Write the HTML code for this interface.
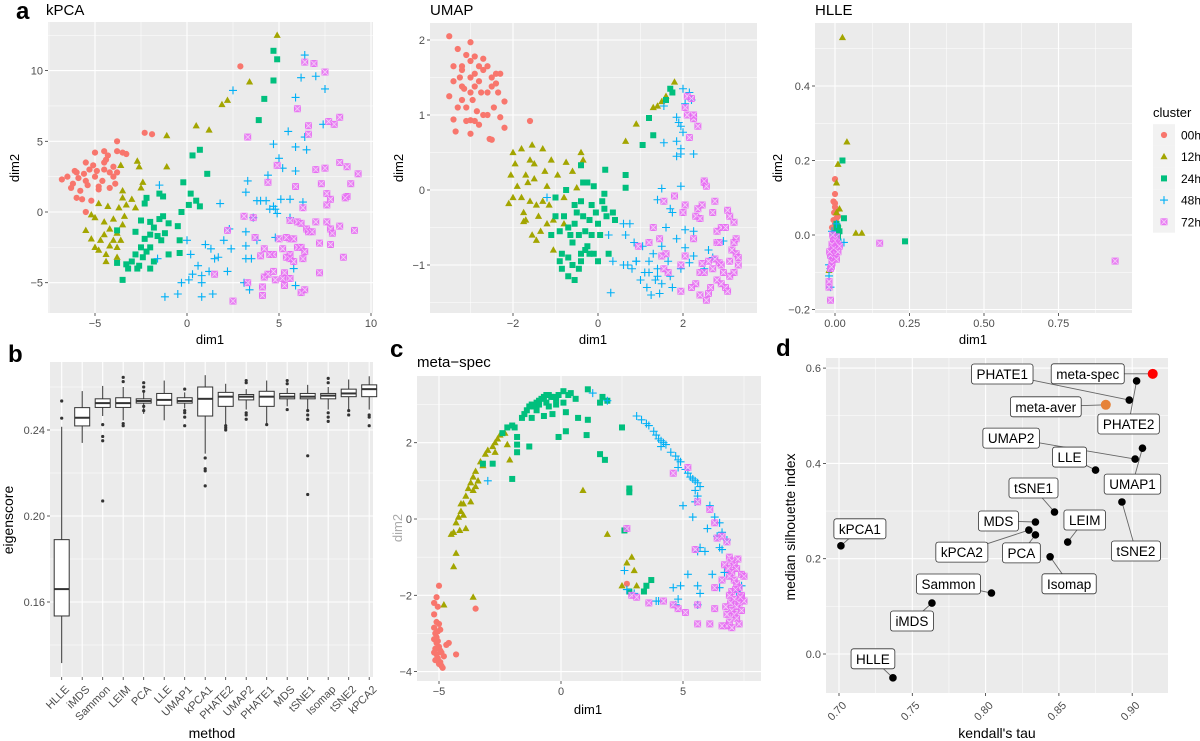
<!DOCTYPE html>
<html><head><meta charset="utf-8">
<style>
html,body{margin:0;padding:0;background:#fff;}
svg{display:block;font-family:"Liberation Sans",Arial,sans-serif;}
</style></head>
<body>
<svg id="fig" width="1200" height="741" viewBox="0 0 1200 741" xmlns="http://www.w3.org/2000/svg"></svg>
<script>
// ---------------- DATA ----------------
const clusters = ["00h","12h","24h","48h","72h"];
const clusterColors = ["#F8766D","#A3A500","#00BF7D","#00B0F6","#E76BF3"];

const kpca00h=[[-6.8,2.3],[-6.5,2.5],[-6.2,2],[-6,2.8],[-5.8,1.5],[-5.5,2.2],[-5.3,3],[-5,2.5],[-4.8,1.8],[-4.5,3.5],[-4.3,4],[-4.2,2.8],[-5.5,3.5],[-5,4.2],[-4.5,4.3],[-4,3.2],[-3.8,4.3],[-3.5,4.2],[-3.3,4.1],[-3.8,5],[-6,1],[-5.7,0.9],[-5.2,0.8],[-5.5,0],[-4.8,1.6],[-4,2.5],[-3.8,2.8],[-6.3,1.7],[-5.9,2.4],[-5.4,1.9],[-4.6,2.2],[-4.2,1.7],[-3.9,2],[-4.5,3],[-5.1,3.3],[-2.3,5.6],[-1.9,5.5],[2.9,10.3],[-6.1,2.9],[-5.6,2.7],[-4.9,2.9],[-4.4,3.7]];
const kpca12h=[[-5.5,-1.3],[-5.2,-1.9],[-5,-2.5],[-4.8,-2.7],[-4.5,-1.6],[-4.2,-1.2],[-4,-0.5],[-4.5,-0.7],[-3.8,-1.5],[-3.5,-0.9],[-3.4,-0.3],[-3.3,0.5],[-3.5,1],[-3.5,1.5],[-3,0.9],[-2.8,0.3],[-4.8,0.6],[-5,-0.4],[-4.3,0.4],[-3.7,0.3],[-4,-2],[-3.8,-2.5],[-4.4,-3],[-4.4,-3.5],[-3.8,-3.2],[-2.5,1.7],[-2.7,3.6],[-2.6,3.2],[-3.6,3.3],[-2.4,2.1],[-1.1,5.4],[-1.1,3.2],[0.5,6.1],[1.2,5.8],[1.9,7.6],[2.2,7.9],[3.4,9.2],[4.9,12.5],[-4.7,-2],[-4.2,-2.4],[-3.6,-2],[-5.2,-0.2]];
const kpca24h=[[-3.8,-1.3],[-3.3,-3.7],[-3.2,-4],[-3,-3.5],[-2.8,-3],[-2.6,-3.8],[-2.4,-3.2],[-2.2,-2.8],[-2,-2.5],[-2.3,-1.9],[-2,-1.6],[-1.8,-1.1],[-1.6,-1.7],[-1.4,-2],[-1.2,-1.5],[-1,-0.8],[-1.3,-0.3],[-1.5,-0.5],[-2,-0.7],[-2.5,-0.6],[-0.5,-1],[-0.3,0],[0.1,0.5],[0.2,1.3],[0.5,0.8],[0.7,0.4],[-0.2,2.1],[0.3,4],[0.7,4.4],[1.1,2.7],[-1.5,1.3],[-1.3,1.1],[-2.3,0.6],[-2.2,1],[-3.5,-4.8],[-3.8,-3.6],[-2.7,-4],[-2,-4],[-1,-3],[-0.4,-2.9],[-0.4,-2],[3.9,6.5],[4.2,8],[4.7,9.3],[4.7,11.4],[4.9,10.8],[-2.8,-1.4],[-2.5,-2.5],[-1.8,-3.5]];
const kpca48h=[[-1.5,1.9],[-1.6,-3.3],[-0.5,-5.8],[-1.2,-6],[-0.3,-5],[0,-2],[0.1,-4.8],[0.3,-4.4],[0.2,-3],[0.6,-3.8],[0.8,-4.5],[0.8,-5],[1,-2.3],[1.2,-4.2],[1.3,-2.6],[1.5,-3.3],[1.7,-3.2],[2,-2],[2.2,-4.2],[2.4,-2.6],[2.5,8.6],[3.2,-3.3],[3.2,-2.4],[3.2,-1.4],[3.4,-5.5],[3.6,-0.4],[3.8,-2],[4,0.8],[4.3,0.8],[4.4,2.6],[4.5,0.2],[4.8,0.2],[4.7,4.8],[4.8,-1.8],[5,3.8],[5.1,0.9],[5.2,3.1],[5.5,5.7],[5.6,0.9],[5.6,-0.4],[5.9,4.6],[5.9,2.9],[5.9,8.1],[6.2,9.5],[6.3,0.7],[6.5,4.4],[6.4,5.3],[6.4,11.1],[7,9.6],[7.5,8.7],[7.4,6.2],[3.2,1.4],[3.3,2.2],[1.8,0.6],[0.8,-6],[1.4,-5.8],[5.9,-5.2],[5.8,-4],[2.3,-1.2],[3.1,-5],[3.8,0.8],[4.9,-0.1],[4.7,0.4],[3.5,-3.3]];
const kpca72h=[[3.3,5.3],[4.4,2.1],[4.9,3.3],[5.9,1.8],[6,7.3],[6.4,10.6],[6.6,6.1],[6.6,5.5],[6.9,10.5],[7.5,9.9],[7,3],[7.5,3.1],[7.3,2],[7.6,1.3],[7.8,0.9],[7.6,0.5],[7.7,6.4],[8,6.2],[8.3,6.7],[8.3,3.5],[8.7,3.2],[8.9,2],[8.7,1.1],[9.3,2.7],[8.6,1],[6.3,0.3],[5.6,-0.6],[6,-0.7],[6.2,-0.8],[6.5,-1.2],[6.6,-1.4],[6.8,-1.4],[7,-0.7],[7.6,-0.7],[7.8,-1.2],[7.9,-1.5],[8.3,-1],[9.1,-1.3],[7.2,-2.2],[7.8,-2.3],[6,-2.5],[6.2,-2.5],[6.3,-3.3],[6.4,-2.8],[5.6,-3],[5.4,-3.2],[5.2,-2.6],[5,-1.9],[5.6,-1.9],[5.8,-1.9],[4.7,-3],[4.5,-3],[4.2,-2.6],[4,-3.1],[4.2,-4.6],[4.4,-4.4],[4.7,-4.2],[4.8,-4.8],[5.2,-4.7],[5.3,-4.3],[5.6,-4.7],[5.3,-5.2],[6.2,-5.7],[6.4,-5.5],[7.2,-4.3],[8.5,-3.2],[3.3,-5],[4.1,-5.3],[4.1,-5.9],[2.5,-6.3],[1.5,-4.4],[2.2,-1.3],[3.1,-0.3],[3.7,-1.8],[3.6,-0.4],[5.6,-3.3],[5.8,-3.5],[5.4,-1.8]];

const umap00h=[[-3.5,2.05],[-3.3,1.88],[-3,1.97],[-3.4,1.65],[-3.2,1.6],[-3.1,1.8],[-3,1.72],[-2.9,1.78],[-2.8,1.65],[-2.7,1.6],[-2.6,1.65],[-2.5,1.5],[-2.4,1.55],[-2.6,1.3],[-2.8,1.45],[-3,1.5],[-3.2,1.38],[-3.4,1.45],[-3.5,1.25],[-3.3,1.1],[-3.1,1.1],[-3.2,1.2],[-3,1.3],[-2.9,1.38],[-2.75,1.3],[-2.5,1.38],[-2.4,1.42],[-2.3,1.55],[-2.2,1.18],[-2.45,1.1],[-2.6,1],[-2.7,1],[-2.9,0.92],[-3,0.93],[-3.1,0.92],[-3.4,0.94],[-3.35,0.78],[-3,0.75],[-2.8,0.87],[-2.5,0.67],[-2.55,0.68],[-2.2,0.83],[-2.3,0.97],[-1.6,0.92],[-3.2,1.65],[-2.95,1.2],[-2.85,1.05],[-2.35,1.3],[-3.25,1.5],[-2.7,1.75],[-2.9,1.55],[-3.15,1.35]];
const umap12h=[[-2.1,-0.18],[-2,0.5],[-1.95,0.35],[-2.05,0.2],[-2,-0.1],[-1.9,0.05],[-1.8,0.55],[-1.7,0.2],[-1.75,-0.3],[-1.7,-0.4],[-1.6,-0.15],[-1.55,0.6],[-1.5,0.35],[-1.5,0.15],[-1.45,-0.2],[-1.4,-0.35],[-1.55,-0.6],[-1.45,-0.67],[-1.35,-0.55],[-1.3,0.55],[-1.25,0.25],[-1.2,0.05],[-1.15,-0.2],[-1.2,-0.45],[-1.1,0.4],[-1.05,-0.4],[-1.05,-0.8],[-0.95,0.2],[-0.8,-0.1],[-0.75,0.37],[-0.6,0.25],[-0.5,0.03],[-0.4,0.5],[-0.35,0.4],[-1.8,-0.1],[-1.6,0.4],[-1.3,-0.15],[0.65,0.65],[0.9,0.88],[1.3,1.1],[1.4,1.12],[1.5,1.18],[1.6,1.25],[1.8,1.44],[-1.75,-0.42],[-1.65,0.1],[-0.8,-0.45]];
const umap24h=[[-1,-0.35],[-1,-0.1],[-0.9,-0.55],[-0.8,-0.35],[-0.7,-0.5],[-0.7,-0.9],[-0.65,-0.6],[-0.6,-0.7],[-0.55,-0.45],[-0.5,-0.3],[-0.45,-0.6],[-0.4,-0.15],[-0.35,-0.35],[-0.3,-0.55],[-0.25,-0.75],[-0.2,-0.4],[-0.15,-0.2],[-0.1,0.05],[-0.05,-0.3],[0,-0.45],[0.05,-0.6],[0.1,-0.15],[0.15,-0.25],[0.2,-0.35],[0.15,-0.05],[0.25,-0.85],[0.35,-0.3],[0.4,-0.4],[-0.4,-0.85],[-0.3,-0.8],[-0.2,-0.85],[-0.1,-0.85],[0,-0.95],[-0.9,-0.95],[-0.85,-1.05],[-0.7,-1.15],[-0.6,-1],[-0.55,-1.2],[-0.45,-1.05],[-0.4,-0.95],[-0.85,-0.85],[-0.55,-0.2],[-0.35,0.1],[-0.25,0.1],[-0.4,0.33],[0.17,0.27],[0.65,0.2],[0.65,0.03],[1.05,0.6],[1.3,0.73],[1.2,0.96],[1.6,1.2],[1.7,1.35],[1.75,1.3],[-0.75,0.0],[-1.1,-0.6],[-0.15,-0.6]];
const umap48h=[[-1.2,-0.1],[0.25,-0.6],[0.35,-0.95],[0.3,-1.37],[0.6,-0.45],[0.65,-0.6],[0.7,-1],[0.8,-1.05],[0.9,-0.95],[0.85,-0.7],[1,-1.2],[1.05,-0.75],[1.1,-1.1],[1.15,-1.3],[1.2,-0.95],[1.25,-1.4],[1.3,-0.85],[1.35,-1.2],[1.4,-1.05],[1.45,-1.38],[1.5,-0.75],[1.6,-0.5],[1.65,-0.95],[1.7,-1.15],[1.75,-1.3],[1.5,-1.25],[1.5,0.02],[1.4,-0.13],[1.7,-0.25],[1.75,-0.3],[1.85,-0.65],[1.95,-1.05],[1.95,0.05],[2.05,-0.53],[2.05,-0.77],[2.15,-0.97],[2.25,-0.88],[2.25,-0.55],[2.5,-1.05],[2.6,-0.8],[2.7,-0.9],[1.55,0.63],[1.85,0.45],[1.95,0.48],[1.95,0.55],[2.25,0.48],[1.85,0.65],[1.9,0.9],[1.85,0.97],[1.95,0.85],[2,0.77],[2.05,1.15],[2,1.35],[2.15,1.3],[2.2,1.2],[1.55,1.12],[0.75,-0.45],[0.9,-0.95],[1.2,-1.1],[1.4,-1.15],[2.95,-0.68],[0.6,-1.0]];
const umap72h=[[0.95,-0.75],[1.2,-0.7],[1.3,-0.5],[1.45,-0.65],[1.5,-0.88],[1.55,-1.05],[1.6,-0.85],[1.65,-1.1],[1.8,-0.08],[1.55,-0.15],[1.95,-1.35],[2.05,-0.88],[2,-0.3],[2.05,-0.2],[2.1,1.25],[2.05,1.1],[2.1,1.0],[2.15,0.7],[2.2,1.22],[2.25,0.95],[2.25,1.0],[2.35,0.85],[2.25,-0.65],[2.3,-0.35],[2.35,-0.25],[2.4,-0.38],[2.45,-0.2],[2.5,0.1],[2.55,0.05],[2.5,0.12],[2.75,-0.15],[2.7,-0.3],[2.8,-0.55],[2.9,-0.5],[3,-0.5],[3.05,-0.27],[3.1,-0.35],[3.2,-0.43],[3.25,-0.65],[3.2,-0.7],[3.25,-0.85],[3.3,-1],[3.2,-1.1],[3.1,-1.15],[3.0,-1.3],[3.05,-1.35],[2.9,-1.25],[2.8,-1.2],[2.7,-1.05],[2.6,-0.95],[2.75,-0.92],[2.85,-0.97],[2.9,-1.0],[2.95,-1.1],[2.65,-1.3],[2.6,-1.38],[2.55,-1.47],[2.4,-1.4],[2.3,-1.25],[2.2,-1.3],[2.4,-1.1],[2.5,-1.1],[2.8,-0.7],[2.85,-0.7],[1.95,-1.0],[3.15,-0.8],[3.3,-0.9],[3.1,-0.95],[2.45,-0.98]];

const hlle00h=[[0,0.15],[0,0.11],[-0.005,0.09],[0,0.085],[-0.003,0.06],[0.005,0.045],[0.01,0.05],[-0.01,0.02],[0,0.03],[0.005,0.065],[0,0.075],[-0.005,0.04]];
const hlle12h=[[0.025,0.53],[0.04,0.25],[0.01,0.19],[0.005,0.14],[0.015,0.07],[0.005,0.06],[0.07,0.005],[0.09,0.005],[-0.02,-0.095],[0.01,0.03],[0,0.01]];
const hlle24h=[[0.025,0.2],[0.03,0.045],[0.235,-0.017],[0.005,0.03],[0.01,0.02],[0.015,0.01],[0,0.005],[-0.005,0.0],[0.01,-0.005],[0.005,0.015]];
const hlle48h=[[-0.02,-0.11],[-0.015,-0.14],[-0.02,-0.08],[-0.01,-0.06],[-0.005,-0.03],[0,0],[0.005,0.03],[0.02,-0.02],[0.03,-0.02],[-0.01,0.01],[0,-0.045],[-0.015,-0.09]];
const hlle72h=[[0.94,-0.07],[0.15,-0.022],[-0.015,-0.175],[-0.02,-0.14],[-0.02,-0.125],[-0.015,-0.09],[-0.01,-0.07],[-0.005,-0.06],[0,-0.05],[-0.01,-0.04],[0,-0.03],[0.005,-0.02],[-0.005,-0.01],[0.005,-0.005],[0,-0.015],[-0.01,-0.025],[-0.005,-0.035],[0.01,-0.045],[-0.015,-0.055],[0.005,-0.065],[-0.01,-0.075],[-0.012,-0.085],[0.01,-0.025],[-0.008,0.0],[0.015,-0.03],[-0.018,-0.045]];

const meta00h=[[-5,-1.75],[-5.1,-2.05],[-5.05,-2.3],[-5.2,-2.5],[-5.1,-2.7],[-5.2,-2.85],[-5,-2.75],[-5.15,-3],[-5.2,-3.15],[-5.1,-3.25],[-5.15,-3.4],[-5.1,-3.55],[-5.05,-3.65],[-4.95,-3.75],[-4.9,-3.85],[-4.85,-3.9],[-5,-3.8],[-5.2,-3.5],[-5.1,-3.1],[-5.05,-2.95],[-4.95,-3.45],[-4.8,-3.6],[-4.7,-3.3],[-4.6,-3.25],[-4.3,-3.55],[-3.5,-2.35],[-5.2,-2.2],[-5,-3.35],[-4.9,-3.5],[-5.15,-3.7],[2.7,-1.7],[-5.05,-3.2],[-4.95,-2.9]];
const meta12h=[[-4.8,-2.25],[-3.6,-2.05],[-4.4,-1.25],[-4.3,-0.9],[-4.5,-0.4],[-4.4,-0.35],[-4.3,-0.1],[-4.2,0.05],[-4.1,0.2],[-4,0.4],[-3.9,0.6],[-3.8,0.8],[-3.7,0.95],[-3.6,1.1],[-3.5,1.25],[-3.3,1.5],[-3.1,1.7],[-3,1.8],[-2.8,1.9],[-2.7,2.0],[-2.6,2.1],[-2.5,2.2],[-2.3,2.25],[-2.2,1.95],[-2.7,1.75],[-3.4,1.0],[-3.6,0.75],[-4.1,0.4],[-3.9,-0.25],[-4.15,-0.3],[-3.7,0.45],[-3.5,0.85],[-3.2,1.4],[-2.1,1.55],[-4.0,0.1],[0.9,0.75],[1.9,-0.4],[2.7,-1.15],[2.9,-1.0],[3,-1.35],[2.5,-1.75],[3.1,-1.75]];
const meta24h=[[-3.2,1.45],[-2.8,1.45],[-2.4,2.25],[-2.2,2.4],[-2,2.45],[-1.9,2.4],[-1.8,2.15],[-1.8,1.95],[-1.8,1.75],[-2,1.05],[-1.6,2.65],[-1.5,2.75],[-1.4,2.85],[-1.3,2.95],[-1.2,3.0],[-1.1,2.95],[-1,3.05],[-0.9,3.1],[-0.8,3.15],[-0.7,3.2],[-0.6,3.25],[-0.5,3.25],[-0.4,3.2],[-0.3,3.2],[-0.2,3.15],[-0.1,3.25],[0.1,3.35],[0.3,3.25],[0.4,3.3],[0.6,3.15],[1.1,3.4],[1.6,3.05],[1.7,3.2],[1.9,3.1],[0.2,2.8],[0.1,3.05],[-0.5,2.95],[-0.35,2.75],[-0.7,2.7],[-1.2,2.65],[-1.3,1.9],[0.7,2.65],[1.1,2.6],[2.5,2.4],[0.2,2.3],[1.05,2.2],[-0.1,2.15],[1.6,1.7],[1.8,1.55],[2.8,0.8],[2.8,0.7],[2.6,-0.3],[2.8,-1.9],[3.4,-1.9],[3.5,-1.75],[3.7,-1.6],[-0.9,3.0],[-0.6,3.05],[-1.0,2.85],[-0.2,3.0]];
const meta48h=[[-3,1.0],[1.3,3.3],[1.9,3.1],[3.1,2.7],[3.3,2.6],[3.5,2.5],[3.6,2.45],[3.8,2.3],[3.9,2.2],[4,2.1],[4.1,2.05],[4.2,2.0],[4.3,1.95],[4.1,1.9],[4.5,1.75],[4.7,1.65],[4.8,1.55],[4.9,1.5],[4.8,1.35],[5.1,1.3],[5.2,1.2],[5.3,1.1],[5.4,1.05],[5.5,1.0],[5.6,0.95],[5.7,0.85],[5.5,0.75],[5.6,0.6],[5.5,0.45],[5,0.35],[5.4,0.05],[6.1,0.35],[6.3,0.05],[6.5,-0.1],[6.0,-0.25],[6.4,-0.45],[6.6,-0.35],[6.8,-0.55],[6.6,-0.8],[6.5,-0.75],[5.7,-0.75],[5.6,-0.85],[5.9,-0.85],[5.2,-1.45],[6.2,-1.45],[6.7,-1.4],[7.4,-1.75],[7.2,-1.9],[4.9,-1.75],[4.6,-1.8],[5.6,-1.75],[5.7,-1.95],[5.6,-2.25],[4.8,-2.1],[4.7,-2.25],[3.9,-2.15],[4.0,-2.15],[2.6,-1.35],[2.7,-1.85],[3.0,-1.95],[6.5,-1.8]];
const meta72h=[[2.7,-0.25],[2.9,-2.0],[3.1,-2.05],[3.6,-2.2],[4.2,-2.15],[4.6,-2.25],[4.8,-2.35],[5.1,-2.45],[5.6,-2.75],[6.1,-2.75],[6.3,-2.35],[4.6,1.2],[5.2,1.35],[5.6,0.45],[6.1,0.25],[6.3,-0.1],[6.4,-0.5],[6.6,-0.45],[6.8,-0.6],[5.5,-0.8],[6.6,-1.6],[5.6,-2.25],[6.3,-1.8],[6.9,-1.0],[7.0,-1.1],[7.1,-1.2],[7.2,-1.3],[7.0,-1.4],[6.9,-1.5],[7.1,-1.6],[7.2,-1.7],[7.3,-1.8],[7.0,-1.9],[6.9,-2.0],[7.1,-2.1],[7.3,-2.2],[7.2,-2.3],[7.0,-2.4],[6.8,-2.5],[7.1,-2.5],[7.2,-2.6],[6.9,-2.7],[6.8,-2.8],[7.0,-2.85],[6.6,-2.8],[7.4,-1.45],[7.5,-1.5],[7.4,-2.0],[7.5,-2.15],[7.4,-2.4],[7.3,-2.75],[6.7,-1.2],[6.85,-1.3],[7.25,-1.05],[6.95,-2.2],[6.75,-2.3],[7.15,-1.85],[7.35,-2.05]];

// panel b
const methods=["HLLE","iMDS","Sammon","LEIM","PCA","LLE","UMAP1","kPCA1","PHATE2","UMAP2","PHATE1","MDS","tSNE1","Isomap","tSNE2","kPCA2"];
const whiskerLow=[0.1316,0.234,0.2465,0.2445,0.2475,0.2445,0.250,0.229,0.2425,0.2495,0.2425,0.251,0.2495,0.2495,0.2485,0.2495];
const q1=[0.1535,0.2419,0.2505,0.2505,0.2525,0.2515,0.2525,0.2465,0.251,0.254,0.251,0.2545,0.2545,0.2545,0.2555,0.2555];
const medians=[0.166,0.2457,0.2525,0.2525,0.2535,0.254,0.2535,0.2545,0.2555,0.2555,0.2555,0.2555,0.2555,0.256,0.257,0.259];
const q3=[0.189,0.2504,0.2545,0.255,0.2545,0.257,0.255,0.26,0.2575,0.2565,0.258,0.257,0.257,0.257,0.259,0.261];
const whiskerHigh=[0.2415,0.2581,0.2605,0.26,0.2575,0.263,0.2575,0.2655,0.2615,0.259,0.263,0.2595,0.261,0.26,0.2635,0.265];
const outliers=[[0.2455,0.2535],[],[0.2425,0.237,0.235,0.207],[0.242,0.243,0.2625,0.2645],[0.249,0.251,0.258,0.26,0.262],[],[0.242,0.246,0.248,0.249,0.259],[0.227,0.222,0.221,0.214],[0.24,0.241,0.242],[0.245,0.247,0.248,0.262,0.263],[0.2425],[0.2495,0.2615,0.263],[0.245,0.247,0.249,0.228,0.21],[0.244,0.246,0.248,0.262,0.264],[0.247,0.249],[0.246,0.247,0.242]];

// panel d
const dMethods=["kPCA1","HLLE","iMDS","Sammon","kPCA2","MDS","PCA","tSNE1","Isomap","LEIM","LLE","tSNE2","UMAP2","UMAP1","PHATE1","PHATE2","meta-spec","meta-aver"];
const kendallTau=[0.7013,0.7368,0.7634,0.804,0.8295,0.834,0.834,0.847,0.844,0.856,0.875,0.893,0.902,0.907,0.898,0.903,0.914,0.882];
const silhouette=[0.227,-0.05,0.107,0.128,0.26,0.277,0.25,0.298,0.204,0.235,0.386,0.319,0.409,0.432,0.533,0.573,0.588,0.523];
// label placement offsets in px (layout, not data)
const labelOffsets=[[19,-17],[-20,-19],[-20,18],[-43,-9],[-67,22],[-37,-1],[-14,18],[-21,-24],[19,27],[17,-22],[-26,-13],[14,49],[-124,-21],[-10,36],[-127,-26],[-8,43],[-65,0],[-60,2]];

// ---------------- HELPERS ----------------
const NS="http://www.w3.org/2000/svg";
const fig=document.getElementById('fig');
function mk(tag,attrs,parent){const e=document.createElementNS(NS,tag);for(const k in attrs)e.setAttribute(k,attrs[k]);(parent||fig).appendChild(e);return e;}
function txt(s,attrs,parent){const e=mk('text',attrs,parent);e.textContent=s;return e;}

function linScale(d0,d1,r0,r1){return v=>r0+(v-d0)*(r1-r0)/(d1-d0);}

function drawPanel(p){
  const g=mk('g',{});
  
  
  const bg=mk('rect',{x:p.x0,y:p.y0,width:p.x1-p.x0,height:p.y1-p.y0,fill:'#EBEBEB'},g);
  
  
  (p.xminor||[]).forEach(v=>{const X=p.sx(v);mk('line',{x1:X,x2:X,y1:p.y0,y2:p.y1,stroke:'#fff','stroke-width':0.5},g);});
  (p.yminor||[]).forEach(v=>{const Y=p.sy(v);mk('line',{x1:p.x0,x2:p.x1,y1:Y,y2:Y,stroke:'#fff','stroke-width':0.5},g);});
  (p.xticks||[]).forEach((v,i)=>{const X=p.sx(v);
    const gl=mk('line',{x1:X,x2:X,y1:p.y0,y2:p.y1,stroke:'#fff','stroke-width':1.1},g);
    
    
    mk('line',{x1:X,x2:X,y1:p.y1,y2:p.y1+3,stroke:'#333','stroke-width':0.8},g);
    if(p.xlabels){
      const lab=p.xlabels[i];
      let t;
      if(p.rotx){t=txt(lab,{x:X+3,y:p.y1+8,'font-size':11,fill:'#4D4D4D','text-anchor':'end',transform:`rotate(-45 ${X+3} ${p.y1+8})`,'dominant-baseline':'hanging'},g);}
      else t=txt(lab,{x:X,y:p.y1+14,'font-size':11,fill:'#4D4D4D','text-anchor':'middle'},g);
      
      
    }
  });
  (p.yticks||[]).forEach((v,i)=>{const Y=p.sy(v);
    const gl=mk('line',{x1:p.x0,x2:p.x1,y1:Y,y2:Y,stroke:'#fff','stroke-width':1.1},g);
    
    
    mk('line',{x1:p.x0-3,x2:p.x0,y1:Y,y2:Y,stroke:'#333','stroke-width':0.8},g);
    const t=txt(p.ylabels[i],{x:p.x0-5,y:Y+4,'font-size':11,fill:'#4D4D4D','text-anchor':'end'},g);
    
    
  });
  return g;
}

function marker(g,shape,X,Y,col){
  let e;
  if(shape===0){e=mk('circle',{cx:X,cy:Y,r:3.1,fill:col},g);}
  else if(shape===1){e=mk('polygon',{points:`${X},${Y-3.8} ${X-3.6},${Y+2.6} ${X+3.6},${Y+2.6}`,fill:col},g);}
  else if(shape===2){e=mk('rect',{x:X-3,y:Y-3,width:6,height:6,fill:col},g);}
  else if(shape===3){e=mk('path',{d:`M${X-4},${Y}H${X+4}M${X},${Y-4}V${Y+4}`,stroke:col,'stroke-width':1.1,fill:'none'},g);}
  else {e=mk('g',{},g);
    mk('rect',{x:X-3,y:Y-3,width:6,height:6,fill:col,'fill-opacity':0.75,stroke:col,'stroke-width':0.9},e);
    mk('path',{d:`M${X-3},${Y-3}L${X+3},${Y+3}M${X+3},${Y-3}L${X-3},${Y+3}`,stroke:'#fff','stroke-width':0.6,'stroke-opacity':0.7},e);}
  return e;
}

function drawScatter(g,p,sets){
  sets.forEach((pts,ci)=>{
    pts.forEach(pt=>{
      const e=marker(g,ci,p.sx(pt[0]),p.sy(pt[1]),clusterColors[ci]);
      
      
    });
  });
}

function label(s,attrs,name){const t=txt(s,attrs);return t;}

// ---------------- PANEL a: kPCA ----------------
(function(){
  const p={name:'kpca-panel',x0:48,x1:373,y0:22,y1:313,
    sx:linScale(0,5,187,279),sy:linScale(0,5,212,141.3),
    xticks:[-5,0,5,10],xlabels:["\u22125","0","5","10"],xminor:[-7.5,-2.5,2.5,7.5],
    yticks:[-5,0,5,10],ylabels:["\u22125","0","5","10"],yminor:[-2.5,2.5,7.5,12.5]};
  const g=drawPanel(p);
  drawScatter(g,p,[kpca00h,kpca12h,kpca24h,kpca48h,kpca72h]);
})();
// ---------------- UMAP ----------------
(function(){
  const p={name:'umap-panel',x0:430,x1:757,y0:23,y1:313,
    sx:linScale(0,2,598,683),sy:linScale(0,1,190,115),
    xticks:[-2,0,2],xlabels:["\u22122","0","2"],xminor:[-3,-1,1,3],
    yticks:[-1,0,1,2],ylabels:["\u22121","0","1","2"],yminor:[-1.5,-0.5,0.5,1.5]};
  const g=drawPanel(p);
  drawScatter(g,p,[umap00h,umap12h,umap24h,umap48h,umap72h]);
})();
// ---------------- HLLE ----------------
(function(){
  const p={name:'hlle-panel',x0:815,x1:1132,y0:23,y1:313,
    sx:linScale(0,0.25,835,909.5),sy:linScale(0,0.2,235,160.5),
    xticks:[0,0.25,0.5,0.75],xlabels:["0.00","0.25","0.50","0.75"],xminor:[0.125,0.375,0.625,0.875],
    yticks:[-0.2,0,0.2,0.4],ylabels:["\u22120.2","0.0","0.2","0.4"],yminor:[-0.1,0.1,0.3,0.5]};
  const g=drawPanel(p);
  drawScatter(g,p,[hlle00h,hlle12h,hlle24h,hlle48h,hlle72h]);
})();
// ---------------- meta-spec ----------------
(function(){
  const p={name:'meta-spec-panel',x0:417,x1:761,y0:376,y1:681,
    sx:linScale(0,5,561,683),sy:linScale(0,2,519,442.7),
    xticks:[-5,0,5],xlabels:["\u22125","0","5"],xminor:[-2.5,2.5,7.5],
    yticks:[-4,-2,0,2],ylabels:["\u22124","\u22122","0","2"],yminor:[-3,-1,1,3]};
  const g=drawPanel(p);
  drawScatter(g,p,[meta00h,meta12h,meta24h,meta48h,meta72h]);
})();
// ---------------- PANEL b boxplot ----------------
(function(){
  const sy=linScale(0.2,0.24,516,430);
  const cx=i=>61.7+i*20.5;
  const p={name:'eigenscore-boxplot',x0:50,x1:373,y0:362,y1:677,sx:v=>cx(v),sy:sy,
    xticks:methods.map((m,i)=>i),xlabels:methods,rotx:true,
    yticks:[0.16,0.2,0.24],ylabels:["0.16","0.20","0.24"],yminor:[0.14,0.18,0.22,0.26]};
  const g=drawPanel(p);
  methods.forEach((m,i)=>{
    const X=cx(i),bw=15;
    const bg=mk('g',{},g);
    
    
    mk('line',{x1:X,x2:X,y1:sy(whiskerLow[i]),y2:sy(q1[i]),stroke:'#333','stroke-width':1},bg);
    mk('line',{x1:X,x2:X,y1:sy(q3[i]),y2:sy(whiskerHigh[i]),stroke:'#333','stroke-width':1},bg);
    mk('rect',{x:X-bw/2,y:sy(q3[i]),width:bw,height:Math.max(0.5,sy(q1[i])-sy(q3[i])),fill:'#fff',stroke:'#333','stroke-width':1},bg);
    mk('line',{x1:X-bw/2,x2:X+bw/2,y1:sy(medians[i]),y2:sy(medians[i]),stroke:'#333','stroke-width':2},bg);
    outliers[i].forEach(v=>{const o=mk('circle',{cx:X,cy:sy(v),r:1.6,fill:'#333'},bg);
      
      });
  });
})();
// ---------------- PANEL d ----------------
(function(){
  const sx=linScale(0.7,0.75,839,912.3),sy=linScale(0,0.2,654,558.7);
  const p={name:'silhouette-scatter',x0:826,x1:1168,y0:358,y1:693,sx:sx,sy:sy,
    xticks:[0.7,0.75,0.8,0.85,0.9],xlabels:["0.70","0.75","0.80","0.85","0.90"],rotx:true,xminor:[0.725,0.775,0.825,0.875,0.925].filter(v=>v<0.92),
    yticks:[0,0.2,0.4,0.6],ylabels:["0.0","0.2","0.4","0.6"],yminor:[-0.1,0.1,0.3,0.5]};
  const g=drawPanel(p);
  const lg=mk('g',{},g), pg=mk('g',{},g), bg=mk('g',{},g);
  dMethods.forEach((m,i)=>{
    const X=sx(kendallTau[i]),Y=sy(silhouette[i]);
    const LX=X+labelOffsets[i][0],LY=Y+labelOffsets[i][1];
    mk('line',{x1:X,y1:Y,x2:LX,y2:LY,stroke:'#666','stroke-width':0.9},lg);
    const col=m==='meta-spec'?'#FF0000':(m==='meta-aver'?'#E6833A':'#000');
    const c=mk('circle',{cx:X,cy:Y,r:(m.startsWith('meta')?5:3.8),fill:col},pg);
    
    
    const box=mk('g',{},bg);
    
    
    const r=mk('rect',{x:0,y:LY-10,width:10,height:20,rx:2.5,fill:'#fff',stroke:'#333','stroke-width':0.8},box);
    const t=txt(m,{x:LX,y:LY+5,'font-size':13.5,'text-anchor':'middle',fill:'#000'},box);
    const w=t.getComputedTextLength()+10;
    r.setAttribute('x',LX-w/2);r.setAttribute('width',w);
  });
})();

// ---------------- TEXT: titles, axis titles, letters ----------------
label('a',{x:16,y:19,'font-size':24,'font-weight':'bold'},'panel-letter-a');
label('kPCA',{x:46,y:15,'font-size':15},'kpca-title');
label('UMAP',{x:430,y:15,'font-size':15},'umap-title');
label('HLLE',{x:815,y:15,'font-size':15},'hlle-title');
label('b',{x:8,y:362,'font-size':24,'font-weight':'bold'},'panel-letter-b');
label('c',{x:390,y:357,'font-size':24,'font-weight':'bold'},'panel-letter-c');
label('meta\u2212spec',{x:417,y:367,'font-size':15},'meta-spec-title');
label('d',{x:776,y:356,'font-size':24,'font-weight':'bold'},'panel-letter-d');

label('dim1',{x:210,y:344,'font-size':13,'text-anchor':'middle'},'kpca-x-title');
label('dim1',{x:593,y:344,'font-size':13,'text-anchor':'middle'},'umap-x-title');
label('dim1',{x:973,y:344,'font-size':13,'text-anchor':'middle'},'hlle-x-title');
label('dim1',{x:588,y:714,'font-size':13,'text-anchor':'middle'},'meta-spec-x-title');
label('method',{x:212,y:738,'font-size':14,'text-anchor':'middle'},'boxplot-x-title');
label("kendall's tau",{x:997,y:738,'font-size':14,'text-anchor':'middle'},'silhouette-x-title');

label('dim2',{x:0,y:0,'font-size':13,'text-anchor':'middle',transform:'translate(19,168) rotate(-90)'},'kpca-y-title');
label('dim2',{x:0,y:0,'font-size':13,'text-anchor':'middle',transform:'translate(403,168) rotate(-90)'},'umap-y-title');
label('dim2',{x:0,y:0,'font-size':13,'text-anchor':'middle',transform:'translate(782,168) rotate(-90)'},'hlle-y-title');
label('dim2',{x:0,y:0,'font-size':13,'text-anchor':'middle',fill:'#aaa',transform:'translate(402,528) rotate(-90)'},'meta-spec-y-title');
label('eigenscore',{x:0,y:0,'font-size':14,'text-anchor':'middle',transform:'translate(13,520) rotate(-90)'},'boxplot-y-title');
label('median silhouette index',{x:0,y:0,'font-size':14,'text-anchor':'middle',transform:'translate(795,527) rotate(-90)'},'silhouette-y-title');

// ---------------- LEGEND ----------------
(function(){
  const g=mk('g',{});
  
  
  txt('cluster',{x:1153,y:117,'font-size':13},g);
  clusters.forEach((c,i)=>{
    const Y=135+i*21.7;
    const e=mk('g',{},g);
    
    
    mk('rect',{x:1153,y:Y-10.8,width:22,height:21.7,fill:'#F2F2F2'},e);
    marker(e,i,1164,Y,clusterColors[i]);
    txt(c,{x:1181,y:Y+4.5,'font-size':12},e);
  });
})();
</script>
</body></html>
